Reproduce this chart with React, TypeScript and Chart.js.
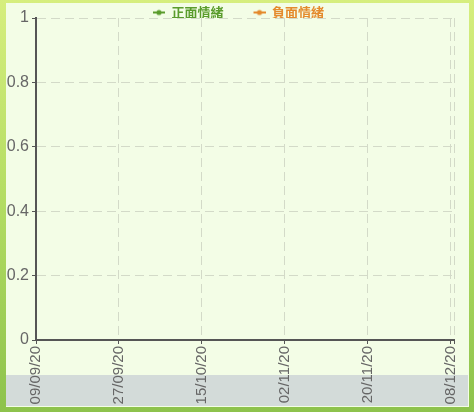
import { useEffect, useRef } from "react"
import { Chart, registerables, type ChartConfiguration } from "chart.js"

Chart.register(...registerables)

// series (no points in this view)
const seriesNames = ["正面情緒", "負面情緒"]
const seriesColors = ["#5a9c2c", "#e48a2c"]
const positiveValues: number[] = []
const negativeValues: number[] = []

// x axis: days since 09/09/20
const tickDays = [0, 18, 36, 54, 72, 90]
const tickLabels = ["09/09/20", "27/09/20", "15/10/20", "02/11/20", "20/11/20", "08/12/20"]
const xMax = 90.7

const yTicks = [0, 0.2, 0.4, 0.6, 0.8, 1]

const FONT = "'Liberation Sans', Arial, sans-serif"

function makeMarker(color: string) {
  const c = document.createElement("canvas")
  c.width = 31
  c.height = 8
  const ctx = c.getContext("2d")
  if (ctx) {
    ctx.strokeStyle = color
    ctx.lineWidth = 2
    ctx.beginPath()
    ctx.moveTo(19, 4)
    ctx.lineTo(31, 4)
    ctx.stroke()
    ctx.fillStyle = color
    ctx.beginPath()
    ctx.arc(25, 4, 2.6, 0, Math.PI * 2)
    ctx.fill()
  }
  return c
}

export default function App() {
  const chartRef = useRef<HTMLCanvasElement>(null)
  const chartInstance = useRef<Chart | null>(null)

  useEffect(() => {
    document.body.style.margin = "0"
    if (!chartRef.current) return
    const ctx = chartRef.current.getContext("2d")
    if (!ctx) return
    if (chartInstance.current) chartInstance.current.destroy()

    const markers = seriesColors.map(makeMarker)

    const config: ChartConfiguration<"line"> = {
      type: "line",
      data: {
        datasets: [
          { label: seriesNames[0], data: positiveValues, borderColor: seriesColors[0], backgroundColor: seriesColors[0] },
          { label: seriesNames[1], data: negativeValues, borderColor: seriesColors[1], backgroundColor: seriesColors[1] },
        ],
      },
      options: {
        animation: false,
        responsive: false,
        maintainAspectRatio: false,
        layout: { padding: { top: -5, right: 16, left: 0, bottom: 0 } },
        plugins: {
          tooltip: { enabled: false },
          legend: {
            position: "top",
            maxHeight: 23,
            labels: {
              usePointStyle: true,
              pointStyleWidth: 31,
              padding: 11,
              font: { family: "'Noto Sans CJK TC', sans-serif", size: 13, weight: "bold" },
              generateLabels: (chart) => {
                const items = Chart.defaults.plugins.legend.labels.generateLabels(chart)
                items.forEach((it, i) => {
                  it.pointStyle = markers[i]
                  it.fontColor = seriesColors[i]
                })
                return items
              },
            },
          },
        },
        scales: {
          x: {
            type: "linear",
            min: 0,
            max: xMax,
            afterBuildTicks: (scale) => {
              scale.ticks = [...tickDays, xMax].map((v) => ({ value: v }))
            },
            afterFit: (scale) => {
              scale.height = 72
            },
            ticks: {
              autoSkip: false,
              minRotation: 90,
              maxRotation: 90,
              padding: 2,
              color: "#666",
              font: { family: FONT, size: 15 },
              callback: (v) => {
                const i = tickDays.indexOf(Number(v))
                return i >= 0 ? tickLabels[i] : ""
              },
            },
            grid: {
              color: "#d3dac8",
              tickColor: "#555",
              tickLength: 4,
              tickWidth: 1,
              tickBorderDash: [],
            },
            border: { color: "#555", width: 2, dash: [9, 5] },
          },
          y: {
            min: 0,
            max: 1,
            afterBuildTicks: (scale) => {
              scale.ticks = yTicks.map((v) => ({ value: v }))
            },
            afterFit: (scale) => {
              scale.width = 36
            },
            ticks: {
              padding: 3,
              color: "#666",
              font: { family: FONT, size: 16 },
              callback: (v) => String(Number(v)),
            },
            grid: {
              color: "#d3dac8",
              tickColor: "#555",
              tickLength: 4,
              tickWidth: 1,
              tickBorderDash: [],
            },
            border: { color: "#555", width: 2, dash: [9, 5] },
          },
        },
      },
    }

    chartInstance.current = new Chart(ctx, config)
    return () => {
      if (chartInstance.current) {
        chartInstance.current.destroy()
        chartInstance.current = null
      }
    }
  }, [])

  return (
    <div
      style={{
        position: "fixed",
        left: 0,
        top: 0,
        width: 474,
        height: 412,
        background: "linear-gradient(to bottom, #d6ee7e 0%, #b2dc62 50%, #8dc24c 100%)",
      }}
    >
      <div style={{ position: "absolute", left: 6, top: 3, width: 463, height: 404, background: "#f3fde6" }} />
      <div style={{ position: "absolute", left: 6, top: 375, width: 462, height: 31, background: "#d3dbd9" }} />
      <canvas ref={chartRef} width={474} height={412} style={{ position: "absolute", left: 0, top: 0 }}></canvas>
    </div>
  )
}
